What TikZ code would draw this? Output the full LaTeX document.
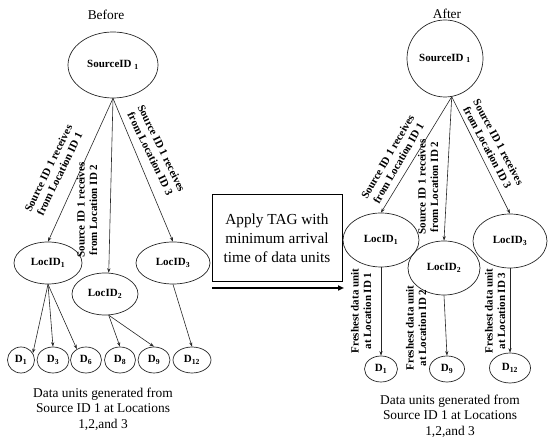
\documentclass[tikz,border=0pt]{standalone}
\usepackage{fontspec}
\setmainfont{Liberation Serif}
\usetikzlibrary{shapes.geometric,arrows.meta}
\tikzset{
  ell/.style={ellipse, draw=black!85, line width=0.7pt, inner sep=0pt,
    font=\bfseries\fontsize{11}{11}\selectfont},
  lbl/.style={font=\bfseries\fontsize{11}{12.5}\selectfont, align=center, inner sep=0pt},
  arr/.style={-{Stealth[length=4.5pt,width=3.2pt]}, line width=0.6pt, draw=black!85},
  captxt/.style={font=\fontsize{13.4}{15.6}\selectfont, align=center, inner sep=0pt},
  boxtxt/.style={draw=black, line width=1pt, minimum width=130pt, minimum height=87pt,
    font=\fontsize{15.3}{19}\selectfont, align=center, inner sep=0pt}
}
\begin{document}
\begin{tikzpicture}[x=1pt,y=-1pt]
\useasboundingbox (0,0) rectangle (550,443);
% ---------- Before ----------
\node[captxt] (before) at (106,15) {Before};
\node[ell, minimum width=90pt, minimum height=66pt] (src1) at (113,65) {SourceID \textsubscript{1}};
\node[ell, minimum width=68pt, minimum height=42pt] (loc1) at (48,263) {LocID\textsubscript{1}};
\node[ell, minimum width=66pt, minimum height=42pt] (loc2) at (105,294) {LocID\textsubscript{2}};
\node[ell, minimum width=74pt, minimum height=42pt] (loc3) at (173,263) {LocID\textsubscript{3}};
\node[ell, minimum width=27pt, minimum height=26pt] (d1) at (21,360) {D\textsubscript{1}};
\node[ell, minimum width=32pt, minimum height=26pt] (d3) at (53,360) {D\textsubscript{3}};
\node[ell, minimum width=31pt, minimum height=26pt] (d6) at (86,360) {D\textsubscript{6}};
\node[ell, minimum width=31pt, minimum height=26pt] (d8) at (120,360) {D\textsubscript{8}};
\node[ell, minimum width=32pt, minimum height=26pt] (d9) at (154,360) {D\textsubscript{9}};
\node[ell, minimum width=38pt, minimum height=26pt] (d12) at (192,360) {D\textsubscript{12}};
\draw[arr] (src1.south) -- (loc1.north);
\draw[arr] (src1.south) -- (loc2.80);
\draw[arr] (src1.south) -- (loc3.north);
\draw[arr] (loc1.south) -- (d1.30);
\draw[arr] (loc1.south) -- (d3.north);
\draw[arr] (loc1.south) -- (d6.130);
\draw[arr] (loc2.-80) -- (d8.north);
\draw[arr] (loc2.-80) -- (d9.north);
\draw[arr] (loc3.south) -- (d12.north);
\node[lbl, rotate=64] (l1) at (54,171) {Source ID 1 receives\\from Location ID 1};
\node[lbl, rotate=90] (m1) at (87,210) {Source ID 1 receives\\from Location ID 2};
\node[lbl, rotate=-64] (r1) at (156,151) {Source ID 1 receives\\from Location ID 3};
\node[captxt] (capL) at (103,409) {Data units generated from\\Source ID 1 at Locations\\1,2,and 3};
% ---------- middle ----------
\node[boxtxt] (tag) at (277,238.5) {Apply TAG with\\minimum arrival\\time of data units};
\coordinate (ta) at (212,288);
\coordinate (tb) at (344,288);
\draw[-{Triangle[length=6pt,width=5pt]}, line width=2.2pt] (ta) -- (tb);
% ---------- After ----------
\node[captxt] (after) at (447,14) {After};
\node[ell, minimum width=76pt, minimum height=77pt] (src2) at (445,58.5) {SourceID \textsubscript{1}};
\node[ell, minimum width=76pt, minimum height=54pt] (rloc1) at (381,240) {LocID\textsubscript{1}};
\node[ell, minimum width=72pt, minimum height=54pt] (rloc2) at (444,268) {LocID\textsubscript{2}};
\node[ell, minimum width=74pt, minimum height=54pt] (rloc3) at (510,241) {LocID\textsubscript{3}};
\node[ell, minimum width=33pt, minimum height=26pt] (rd1) at (381,369) {D\textsubscript{1}};
\node[ell, minimum width=35pt, minimum height=26pt] (rd9) at (447,369) {D\textsubscript{9}};
\node[ell, minimum width=41pt, minimum height=30pt] (rd12) at (510,368) {D\textsubscript{12}};
\draw[arr] (src2.-80) -- (rloc1.north);
\draw[arr] (src2.-80) -- (rloc2.north);
\draw[arr] (src2.-80) -- (rloc3.north);
\draw[arr] (rloc1.south) -- (rd1.north);
\draw[arr] (rloc2.south) -- (rd9.north);
\draw[arr] (rloc3.south) -- (rd12.north);
\node[lbl, rotate=60] (l2) at (393,160) {Source ID 1 receives\\from Location ID 1};
\node[lbl, rotate=90] (m2) at (428,187) {Source ID 1 receives\\from Location ID 2};
\node[lbl, rotate=-62] (r2) at (493,145) {Source ID 1 receives\\from Location ID 3};
\node[lbl, rotate=90] (f1) at (361,311) {Freshest data unit\\at Location ID 1};
\node[lbl, rotate=90] (f2) at (416,328) {Freshest data unit\\at Location ID 2};
\node[lbl, rotate=90] (f3) at (495,311) {Freshest data unit\\at Location ID 3};
\node[captxt] (capR) at (450,416) {Data units generated from\\Source ID 1 at Locations\\1,2,and 3};
\end{tikzpicture}
\end{document}
